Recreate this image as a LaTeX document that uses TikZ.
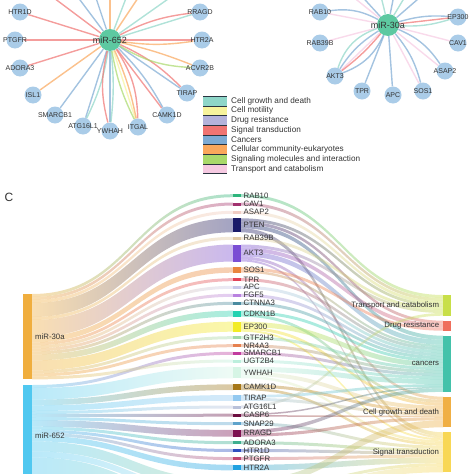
\documentclass[tikz,border=0pt]{standalone}
\usepackage{fontspec}
\setmainfont{Liberation Sans}
\usetikzlibrary{calc,positioning,backgrounds}

% pathway colours (network + legend)
\definecolor{kCG}{HTML}{8ED6C8}
\definecolor{kCM}{HTML}{F7F39C}
\definecolor{kDR}{HTML}{B5B3DB}
\definecolor{kST}{HTML}{F07472}
\definecolor{kCA}{HTML}{7DAAD3}
\definecolor{kCC}{HTML}{F9A75C}
\definecolor{kSM}{HTML}{A9D96B}
\definecolor{kTC}{HTML}{F6CAE2}
\definecolor{ink}{HTML}{333333}
\definecolor{keyline}{HTML}{2A3440}
\definecolor{nodeblue}{HTML}{AACCE8}
\definecolor{hubgreen}{HTML}{5DC9A1}
% sankey colours
\definecolor{cm30a}{HTML}{F0AE3E}
\definecolor{cm652}{HTML}{50C8F0}
\definecolor{pTC}{HTML}{C8DF48}
\definecolor{pDR}{HTML}{EF6E5C}
\definecolor{pCA}{HTML}{43C2AA}
\definecolor{pCG}{HTML}{F0AF44}
\definecolor{pST}{HTML}{F8D755}
\definecolor{RAB10}{HTML}{2DB57C}
\definecolor{CAV1}{HTML}{A2316F}
\definecolor{ASAP2}{HTML}{F0CCC4}
\definecolor{PTEN}{HTML}{1A1A68}
\definecolor{RAB39B}{HTML}{E0C8A4}
\definecolor{AKT3}{HTML}{7A4ED4}
\definecolor{SOS1}{HTML}{E9853F}
\definecolor{TPR}{HTML}{E2445A}
\definecolor{APC}{HTML}{C9C9EA}
\definecolor{FGF5}{HTML}{B982E0}
\definecolor{CTNNA3}{HTML}{4A8BA0}
\definecolor{CDKN1B}{HTML}{23D2B1}
\definecolor{EP300}{HTML}{F2EC26}
\definecolor{GTF2H3}{HTML}{A3D9AA}
\definecolor{NR4A3}{HTML}{E6814F}
\definecolor{SMARCB1}{HTML}{C23B9E}
\definecolor{UGT2B4}{HTML}{BDEFDD}
\definecolor{YWHAH}{HTML}{D6F5E5}
\definecolor{CAMK1D}{HTML}{A67718}
\definecolor{TIRAP}{HTML}{93C9F0}
\definecolor{ATG16L1}{HTML}{B9C1D9}
\definecolor{CASP6}{HTML}{6D0E40}
\definecolor{SNAP29}{HTML}{5EA3CB}
\definecolor{RRAGD}{HTML}{7D1150}
\definecolor{ADORA3}{HTML}{3EAF8F}
\definecolor{HTR1D}{HTML}{2F4FC0}
\definecolor{PTGFR}{HTML}{BF4770}
\definecolor{HTR2A}{HTML}{20A1E0}
\definecolor{ISL1}{HTML}{9AD0A0}
\definecolor{ITGAL}{HTML}{C8E8F0}
\definecolor{ACVR2B}{HTML}{A8DDB0}

\tikzset{
  hub/.style={circle, fill=hubgreen, minimum size=22pt, inner sep=0pt},
  gnode/.style={circle, fill=nodeblue, minimum size=17pt, inner sep=0pt},
  hubtext/.style={font=\fontsize{9}{10}\selectfont, text=ink, inner sep=0pt},
  gtext/.style={font=\fontsize{7}{8}\selectfont, text=ink, inner sep=0pt},
  netlink/.style={line width=1.4pt, draw opacity=.7},
  swatch/.style={minimum width=24pt, minimum height=9.7pt, inner sep=0pt, outer sep=0pt},
  ltext/.style={font=\fontsize{8.2}{9}\selectfont, text=ink, inner sep=0pt},
  gbar/.style={minimum width=8pt, inner sep=0pt, outer sep=0pt},
  mbar/.style={minimum width=9pt, inner sep=0pt, outer sep=0pt},
  pbar/.style={minimum width=7.4pt, inner sep=0pt, outer sep=0pt},
  slab/.style={font=\fontsize{7.8}{9}\selectfont, text=ink, inner sep=0pt},
}

% sankey band, stacked from the top of both ends
\newcommand\initoff[1]{\ifcsname#1\endcsname\else\expandafter\gdef\csname#1\endcsname{0}\fi}
\newcommand\flowband[5]{%
  \initoff{out@#1}\initoff{in@#2}%
  \pgfmathsetmacro\offA{\csname out@#1\endcsname}%
  \pgfmathsetmacro\offB{\csname in@#2\endcsname}%
  \pgfmathsetmacro\endA{\offA+#3}%
  \pgfmathsetmacro\endB{\offB+#3}%
  \expandafter\xdef\csname out@#1\endcsname{\endA}%
  \expandafter\xdef\csname in@#2\endcsname{\endB}%
  \shade[left color=#4, right color=#5, fill opacity=.4]
    ($(#1.north east)+(0,\offA)$) .. controls +(100,0) and +(-100,0) .. ($(#2.north west)+(0,\offB)$)
    -- ($(#2.north west)+(0,\endB)$) .. controls +(-100,0) and +(100,0) .. ($(#1.north east)+(0,\endA)$) -- cycle;}

\def\genes{RAB10/195.7/3/m30a, CAV1/204/3/m30a, ASAP2/212.3/3/m30a, PTEN/225.3/14/m30a,
  RAB39B/238.3/3/m30a, AKT3/253/17/m30a, SOS1/270/5.4/m30a, TPR/279.7/3/m30a,
  APC/287.3/3/m30a, FGF5/295.3/3/m30a, CTNNA3/303.3/3/m30a, CDKN1B/313.7/6/m30a,
  EP300/326.7/10/m30a, GTF2H3/337.7/3/m30a, NR4A3/345.7/3/m30a, SMARCB1/353.3/3/m652,
  UGT2B4/361/3/m30a, YWHAH/372.5/11.6/m652, CAMK1D/387.2/5.7/m652, TIRAP/397.9/5.7/m652,
  ATG16L1/407/3/m652, CASP6/415.2/3/m652, SNAP29/423.7/3/m652, RRAGD/433.3/6.7/m652,
  ADORA3/442.7/3/m652, HTR1D/450.5/3/m652, PTGFR/458.6/3/m652, HTR2A/467.6/5.6/m652,
  ISL1/485/10/m652, ITGAL/496/6.1/m652, ACVR2B/512/18/m652}

\begin{document}
\begin{tikzpicture}[x=1pt,y=-1pt]
    \useasboundingbox (0,0) rectangle (474,474);
    \clip (0,0) rectangle (474,474);

    % network of miR-652
    \node[hub, label={[hubtext]center:miR-652}] (n652) at (110,40) {};
    \foreach \n/\x/\y in {HTR1D/20/12, PTGFR/15/40, ADORA3/20/68, ISL1/33/95, SMARCB1/55/115,
        ATG16L1/83/126, YWHAH/110/131, ITGAL/138/127, CAMK1D/167/115, TIRAP/187/93,
        ACVR2B/200/68, HTR2A/202/40, RRAGD/200/12}
        \node[gnode, label={[gtext]center:\n}] (a\n) at (\x,\y) {};

    % network of miR-30a
    \node[hub, label={[hubtext]center:miR-30a}] (n30a) at (388,25) {};
    \foreach \n/\x/\y in {RAB10/320/12, RAB39B/320/43, AKT3/335/76, TPR/362/91, APC/393/95,
        SOS1/423/91, ASAP2/445/71, CAV1/458/43, EP300/458/17}
        \node[gnode, label={[gtext]center:\n}] (b\n) at (\x,\y) {};

    \begin{scope}[on background layer]
        \clip (0,0) rectangle (474,474);
        \foreach \n/\c/\bnd in {HTR1D/kST/0, PTGFR/kST/0, ADORA3/kST/0, ISL1/kCC/0, SMARCB1/kCA/0,
            ATG16L1/kCA/0, ATG16L1/kCG/8, YWHAH/kCA/0, YWHAH/kCG/6, YWHAH/kST/-14,
            ITGAL/kCM/0, ITGAL/kSM/-8, ITGAL/kST/16, ITGAL/kCC/6, CAMK1D/kST/0, CAMK1D/kCA/8,
            TIRAP/kCA/0, TIRAP/kST/10, ACVR2B/kSM/-14, ACVR2B/kCC/4, HTR2A/kST/0, HTR2A/kCC/-8,
            RRAGD/kCG/0, RRAGD/kST/10}
            \draw[netlink, draw=\c] (n652) to[bend left=\bnd] (a\n);
        \foreach \x/\c [count=\i] in {30/kST, 65/kCA, 90/kCA, 110/kCC, 133/kCG, 150/kCC, 195/kCG} {
            \coordinate (ta\i) at (\x,-20);
            \draw[netlink, draw=\c] (n652) -- (ta\i);
        }
        \foreach \n/\c/\bnd in {RAB10/kTC/0, RAB10/kCA/-18, RAB39B/kTC/0, AKT3/kTC/0, AKT3/kST/6,
            AKT3/kCA/22, AKT3/kCA/-12, AKT3/kCG/-26, TPR/kCA/0, APC/kCA/0, SOS1/kTC/0, SOS1/kCA/12,
            ASAP2/kTC/0, ASAP2/kCA/16, CAV1/kTC/0, EP300/kST/0, EP300/kCG/-10, EP300/kCA/10}
            \draw[netlink, draw=\c] (n30a) to[bend left=\bnd] (b\n);
        \foreach \x/\c [count=\i] in {332/kTC, 347/kCA, 377/kCG, 397/kCA, 415/kCG, 440/kCA} {
            \coordinate (tb\i) at (\x,-20);
            \draw[netlink, draw=\c] (n30a) -- (tb\i);
        }
    \end{scope}

    % legend
    \foreach \txt/\c [count=\i] in {Cell growth and death/kCG, Cell motility/kCM, Drug resistance/kDR,
        Signal transduction/kST, Cancers/kCA, Cellular community-eukaryotes/kCC,
        Signaling molecules and interaction/kSM, Transport and catabolism/kTC} {
        \node[swatch, fill=\c] (k\i) at (215,91.3+9.7*\i) {};
        \draw[keyline, line width=.6pt] (k\i.north west) -- (k\i.north east);
        \node[ltext, right=4pt of k\i] {\txt};
    }
    \draw[keyline, line width=.6pt] (k8.south west) -- (k8.south east);

    \node[font=\fontsize{12}{14}\selectfont, text=ink] (panelC) at (9,197) {C};

    % sankey: miRNA, gene and pathway bars
    \node[mbar, fill=cm30a, minimum height=85pt] (m30a) at (27.5,336.5) {};
    \node[mbar, fill=cm652, minimum height=102pt] (m652) at (27.5,436) {};
    \node[slab, right=3pt of m30a] {miR-30a};
    \node[slab, right=3pt of m652] {miR-652};

    % genes below the lower edge keep their bars (for the bands) but get no label
    \foreach \g/\y/\h/\m in \genes {
        \node[gbar, fill=\g, minimum height=\h pt] (s\g) at (237,\y) {};
        \ifdim\y pt<474pt \node[slab, right=2.5pt of s\g] {\g};\fi
    }

    \foreach \pw/\y/\h/\txt in {TC/305.35/20.7/Transport and catabolism, DR/325.7/10/Drug resistance,
        CA/363.7/56/cancers, CG/412/30.6/Cell growth and death, ST/452.3/40/Signal transduction} {
        \node[pbar, fill=p\pw, minimum height=\h pt] (\pw) at (447,\y) {};
        \node[slab, left=4pt of \pw] {\txt};
    }

    \begin{scope}[on background layer]
        \clip (0,0) rectangle (474,474);
        \foreach \g/\y/\h/\m in \genes
            \flowband{\m}{s\g}{\h}{c\m}{\g};
        \foreach \g/\pw/\w in {RAB10/TC/3, CAV1/TC/3, ASAP2/TC/3, PTEN/TC/3, PTEN/DR/3, PTEN/CA/4,
            PTEN/ST/4, RAB39B/TC/3, AKT3/TC/3, AKT3/DR/4, AKT3/CA/5, AKT3/CG/3, AKT3/ST/2,
            SOS1/DR/3, SOS1/CA/2.4, TPR/CA/3, APC/CA/3, FGF5/CA/3, CTNNA3/CA/3, CDKN1B/CA/3,
            CDKN1B/CG/3, EP300/CA/5, EP300/CG/3, EP300/ST/2, GTF2H3/CA/3, NR4A3/CA/3,
            SMARCB1/CA/3, UGT2B4/CA/3, YWHAH/CA/5, YWHAH/CG/4, YWHAH/ST/2.6, CAMK1D/CG/3,
            CAMK1D/ST/2.7, TIRAP/CA/2.7, TIRAP/CG/3, ATG16L1/TC/2.7, CASP6/CA/1.5, CASP6/CG/1.5,
            SNAP29/ST/3, RRAGD/CA/3.6, RRAGD/CG/3.1, ADORA3/ST/3, HTR1D/ST/3, PTGFR/ST/3,
            HTR2A/ST/5.6, ISL1/CG/7, ISL1/ST/3, ITGAL/ST/6.1}
            \flowband{s\g}{\pw}{\w}{\g}{p\pw};
    \end{scope}
\end{tikzpicture}
\end{document}
